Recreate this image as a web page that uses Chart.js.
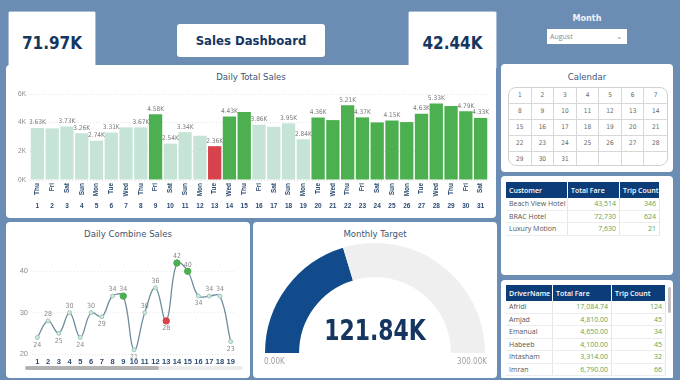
<!DOCTYPE html>
<html>
<head>
<meta charset="utf-8">
<script src="https://cdn.jsdelivr.net/npm/chart.js@4"></script>
<style>
body{margin:0;width:680px;height:380px;background:#6b8db4;position:relative;overflow:hidden;font-family:"DejaVu Sans Condensed",sans-serif;}
.box{position:absolute;background:#fff;border-radius:4px;}
.kpi{border:1px solid #a8bed6;border-radius:2px;color:#153661;font-weight:bold;font-size:17px;text-align:center;box-sizing:border-box;padding-top:21px;}
.title{position:absolute;left:0;right:0;text-align:center;color:#3e5573;font-size:9.5px;}
canvas{position:absolute;}
table{position:absolute;border-collapse:collapse;table-layout:fixed;font-family:"Open Sans",sans-serif;font-size:7px;color:#555;}
th{background:#0d3d78;color:#fff;text-align:left;font-weight:600;height:16px;padding:0 3px;border-right:1px solid #fff;white-space:nowrap;overflow:hidden;}
td{height:11.5px;padding:0 3px;border-bottom:1px solid #ececec;border-right:1px solid #e6e6e6;white-space:nowrap;overflow:hidden;}
td.n{text-align:right;color:#5aa65a;}
.cal{position:absolute;left:508px;top:87px;width:160px;height:79px;border:1px solid #d2d2d2;border-radius:8px;box-sizing:border-box;overflow:hidden;display:grid;grid-template-columns:repeat(7,1fr);grid-template-rows:repeat(5,1fr);}
.cal div{border-right:1px solid #d8d8d8;border-bottom:1px solid #d8d8d8;font-size:6.5px;color:#666;text-align:center;line-height:15px;}
</style>
</head>
<body>
<div class="box kpi" style="left:8px;top:11px;width:88px;height:58px;">71.97K</div>
<div class="box" style="left:177px;top:24px;width:148px;height:33px;border-radius:3px;color:#153661;font-weight:bold;font-size:13px;text-align:center;line-height:33px;">Sales Dashboard</div>
<div class="box kpi" style="left:408px;top:11px;width:89px;height:58px;">42.44K</div>
<div style="position:absolute;left:547px;top:13px;width:80px;text-align:center;color:#eef3f8;font-size:9px;font-weight:bold;">Month</div>
<div style="position:absolute;left:547px;top:29px;width:80px;height:15px;background:#fff;font-family:'Open Sans',sans-serif;font-size:7px;color:#8a8a8a;line-height:15px;padding-left:3px;box-sizing:border-box;">August<span style="position:absolute;right:4px;top:-1px;color:#999;font-size:8px;">&#8964;</span></div>

<div class="box" style="left:6px;top:65px;width:490px;height:153px;">
  <div class="title" style="top:6px;">Daily Total Sales</div>
</div>
<canvas id="bar" width="486" height="128" style="left:8px;top:86px;"></canvas>

<div class="box" style="left:501px;top:64px;width:172px;height:108px;">
  <div class="title" style="top:7px;">Calendar</div>
</div>
<div class="cal" id="cal"></div>

<div class="box" style="left:501px;top:176px;width:172px;height:99px;"></div>
<table id="cust" style="left:506px;top:182px;width:151px;">
  <tr><th style="width:55px">Customer</th><th style="width:45px">Total Fare</th><th style="width:33px">Trip Count</th></tr>
</table>

<div class="box" style="left:501px;top:280px;width:172px;height:100px;overflow:hidden;"></div>
<table id="drv" style="left:506px;top:285px;width:157px;">
  <tr><th style="width:40px">DriverName</th><th style="width:52px">Total Fare</th><th style="width:47px">Trip Count</th></tr>
</table>
<div style="position:absolute;left:668px;top:287px;width:3px;height:26px;background:#c4c4c4;border-radius:2px;"></div>
<div style="position:absolute;left:501px;top:378px;width:179px;height:2px;background:#6b8db4;"></div>

<div class="box" style="left:6px;top:222px;width:244px;height:156px;">
  <div class="title" style="top:6px;">Daily Combine Sales</div>
</div>
<canvas id="line" width="236" height="128" style="left:10px;top:240px;"></canvas>
<div style="position:absolute;left:25px;top:366px;width:218px;height:4px;background:#ececec;border-radius:3px;"></div>
<div style="position:absolute;left:25px;top:366px;width:134px;height:4px;background:#b3b3b3;border-radius:3px;"></div>

<div class="box" style="left:253px;top:222px;width:244px;height:156px;">
  <div class="title" style="top:6px;">Monthly Target</div>
</div>
<canvas id="gauge" width="220" height="110" style="left:265px;top:243px;"></canvas>
<div id="gval" style="position:absolute;left:265px;top:313px;width:220px;text-align:center;color:#153661;font-weight:bold;font-size:29px;transform:scaleX(0.84);"></div>
<div id="gmin" style="position:absolute;left:264px;top:357px;color:#a0a0a0;font-size:8px;"></div>
<div id="gmax" style="position:absolute;left:437px;top:357px;width:50px;text-align:right;color:#a0a0a0;font-size:8px;"></div>

<script>
// ===== data =====
const days = ['1','2','3','4','5','6','7','8','9','10','11','12','13','14','15','16','17','18','19','20','21','22','23','24','25','26','27','28','29','30','31'];
const dayNames = ['Thu','Fri','Sat','Sun','Mon','Tue','Wed','Thu','Fri','Sat','Sun','Mon','Tue','Wed','Thu','Fri','Sat','Sun','Mon','Tue','Wed','Thu','Fri','Sat','Sun','Mon','Tue','Wed','Thu','Fri','Sat'];
// daily total sales in K
const dailySales = [3.63,3.60,3.73,3.26,2.74,3.31,3.67,3.67,4.58,2.54,3.34,3.09,2.36,4.43,4.75,3.86,3.71,3.95,2.84,4.36,4.18,5.21,4.37,4.02,4.15,4.04,4.63,5.33,5.17,4.79,4.33];
const salesTicks = [0,2,4,6];
const lineDays = ['1','2','3','4','5','6','7','8','9','10','11','12','13','14','15','16','17','18','19'];
const combineSales = [24,28,25,30,24,30,29,34,34,21,30,36,28,42,40,34,34,34,23];
const combineTicks = [20,30,40];
const targetValue = 121.84;
const targetMax = 300;
const customers = ['Beach View Hotel','BRAC Hotel','Luxury Motion'];
const customerFare = ['43,514','72,730','7,630'];
const customerTrips = [346,624,21];
const drivers = ['Afridi','Amjad','Emanual','Habeeb','Ihtasham','Imran'];
const driverFare = ['17,084.74','4,810.00','4,650.00','4,100.00','3,314.00','6,790.00'];
const driverTrips = [124,45,34,45,32,66];

const GREEN = '#4caf50', RED = '#d7424c', MINT = '#c5e4d6';
const minSale = Math.min(...dailySales);
function saleColor(v){
    if (v === minSale) return RED;
    if (v >= 4) return GREEN;
    return MINT;
}

// ===== calendar + tables =====
const cal = document.getElementById('cal');
for (let i = 0; i < 35; i++) {
    const d = document.createElement('div');
    d.textContent = i < days.length ? days[i] : '';
    if (i % 7 === 6) d.style.borderRight = 'none';
    if (i >= 28) d.style.borderBottom = 'none';
    cal.appendChild(d);
}
function fillTable(id, names, fares, trips){
    const t = document.getElementById(id);
    names.forEach((n, i) => {
        const r = t.insertRow();
        r.innerHTML = `<td>${n}</td><td class="n">${fares[i]}</td><td class="n">${trips[i]}</td>`;
    });
}
fillTable('cust', customers, customerFare, customerTrips);
fillTable('drv', drivers, driverFare, driverTrips);

// ===== bar chart =====
const barLabels = {
    id: 'barLabels',
    afterDatasetsDraw(chart){
        const ctx = chart.ctx;
        const meta = chart.getDatasetMeta(0);
        ctx.save();
        ctx.font = '6.5px "DejaVu Sans Condensed"';
        ctx.fillStyle = '#7a7a7a';
        ctx.textAlign = 'center';
        ctx.textBaseline = 'bottom';
        let last = null;
        meta.data.forEach((bar, i) => {
            const y = bar.y - 2;
            if (last && Math.abs(bar.x - last.x) < 16 && Math.abs(y - last.y) < 6) return;
            ctx.fillText(dailySales[i].toFixed(2) + 'K', bar.x, y);
            last = {x: bar.x, y: y};
        });
        ctx.restore();
    }
};
new Chart(document.getElementById('bar'), {
    type: 'bar',
    data: {
        labels: dayNames,
        datasets: [{
            data: dailySales,
            backgroundColor: dailySales.map(saleColor),
            barPercentage: 0.9,
            categoryPercentage: 1
        }]
    },
    options: {
        responsive: false,
        animation: false,
        layout: {padding: {top: 8, right: 6, left: 0, bottom: 0}},
        plugins: {legend: {display: false}, tooltip: {enabled: false}},
        scales: {
            y: {
                min: 0, max: 6,
                afterFit(s){ s.width = 22; },
                afterBuildTicks(s){ s.ticks = salesTicks.map(v => ({value: v})); },
                ticks: {callback: v => v + 'K', color: '#8a8a8a', font: {size: 6.5}, padding: 4},
                grid: {color: '#e4e4e4', drawTicks: false},
                border: {display: false, dash: [1, 2]}
            },
            x: {
                weight: 0,
                afterFit(s){ s.height = 20; },
                ticks: {minRotation: 90, maxRotation: 90, autoSkip: false, color: '#2c4a72', font: {size: 6.5, weight: 'bold'}, padding: 3},
                grid: {display: false, drawTicks: false},
                border: {display: false}
            },
            x2: {
                type: 'category',
                labels: days,
                position: 'bottom',
                offset: true,
                weight: 1,
                afterFit(s){ s.height = 14; },
                ticks: {autoSkip: false, color: '#2c4a72', font: {size: 6.5, weight: 'bold'}, padding: 2},
                grid: {display: false, drawTicks: false},
                border: {display: false}
            }
        }
    },
    plugins: [barLabels]
});

// ===== line chart =====
const lineLabels = {
    id: 'lineLabels',
    afterDatasetsDraw(chart){
        const ctx = chart.ctx;
        const meta = chart.getDatasetMeta(0);
        ctx.save();
        ctx.font = '7px "DejaVu Sans Condensed"';
        ctx.fillStyle = '#888';
        ctx.textAlign = 'center';
        meta.data.forEach((pt, i) => {
            const v = combineSales[i], prev = combineSales[i - 1], next = combineSales[i + 1];
            const below = (prev === undefined || v < prev) && (next === undefined || v <= next);
            ctx.textBaseline = below ? 'top' : 'bottom';
            ctx.fillText(v, pt.x, below ? pt.y + 4 : pt.y - 3);
        });
        ctx.restore();
    }
};
const pointColors = combineSales.map((v, i) => {
    const c = saleColor(dailySales[i]);
    return c === MINT ? '#cfe9de' : c;
});
new Chart(document.getElementById('line'), {
    type: 'line',
    data: {
        labels: lineDays,
        datasets: [{
            data: combineSales,
            borderColor: '#6f8c9d',
            borderWidth: 1.3,
            tension: 0.4,
            pointBackgroundColor: pointColors,
            pointBorderColor: pointColors.map(c => c === '#cfe9de' ? '#9cc7b6' : c),
            pointBorderWidth: 1,
            pointRadius: pointColors.map(c => c === '#cfe9de' ? 2 : 3.2)
        }]
    },
    options: {
        responsive: false,
        animation: false,
        layout: {padding: {top: 5, right: 10, left: 0, bottom: 0}},
        plugins: {legend: {display: false}, tooltip: {enabled: false}},
        scales: {
            y: {
                min: 20, max: 45.5,
                afterFit(s){ s.width = 22; },
                afterBuildTicks(s){ s.ticks = combineTicks.map(v => ({value: v})); },
                ticks: {color: '#8a8a8a', font: {size: 7.5}, padding: 4},
                grid: {color: '#e8e8e8', drawTicks: false},
                border: {display: false, dash: [1, 2]}
            },
            x: {
                offset: true,
                afterFit(s){ s.height = 14; },
                ticks: {autoSkip: false, maxRotation: 0, color: '#2c4a72', font: {size: 7.5, weight: 'bold'}, padding: 3},
                grid: {display: false, drawTicks: false},
                border: {display: false}
            }
        }
    },
    plugins: [lineLabels]
});

// ===== gauge =====
new Chart(document.getElementById('gauge'), {
    type: 'doughnut',
    data: {
        datasets: [{
            data: [targetValue, targetMax - targetValue],
            backgroundColor: ['#114b8c', '#efefef'],
            borderWidth: 0
        }]
    },
    options: {
        responsive: false,
        animation: false,
        rotation: -90,
        circumference: 180,
        cutout: '69%',
        plugins: {legend: {display: false}, tooltip: {enabled: false}}
    }
});
document.getElementById('gval').textContent = targetValue.toFixed(2) + 'K';
document.getElementById('gmin').textContent = (0).toFixed(2) + 'K';
document.getElementById('gmax').textContent = targetMax.toFixed(2) + 'K';
</script>
</body>
</html>
